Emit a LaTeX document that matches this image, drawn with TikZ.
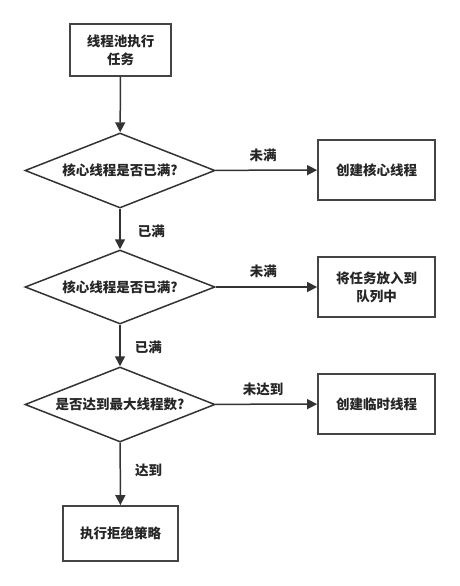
\documentclass[tikz,border=0pt]{standalone}
\usepackage{fontspec}
\setmainfont{Noto Sans CJK SC}
\usetikzlibrary{arrows.meta,shapes.geometric}
\definecolor{linec}{HTML}{333333}
\definecolor{boxc}{HTML}{444444}
\tikzset{
  boxnode/.style={draw=boxc,line width=1.8pt,rectangle,inner sep=0pt,align=center,font=\fontsize{13.5}{18}\selectfont\bfseries,text=black!85},
  decision/.style={draw=linec,line width=1.5pt,diamond,inner sep=0pt,font=\fontsize{13.5}{16}\selectfont\bfseries,text=black!85},
  conn/.style={draw=linec,line width=1.5pt,-{Triangle[length=10pt,width=10pt]}},
  lbl/.style={font=\fontsize{13.5}{16}\selectfont\bfseries,text=black!85,inner sep=0pt}
}
\begin{document}
\begin{tikzpicture}[x=1pt,y=-1pt]
\useasboundingbox (0,0) rectangle (459,586);
\fill[white] (0,0) rectangle (459,586);
\node[boxnode,minimum width=101pt,minimum height=52pt] (start) at (120.5,50) {线程池执行\\任务};
\node[decision,minimum width=190pt,minimum height=75pt] (d1) at (120,170.5) {};
\node[lbl] at (d1) {核心线程是否已满?};
\node[boxnode,minimum width=117pt,minimum height=60pt] (b1) at (376.5,170) {创建核心线程};
\node[decision,minimum width=190pt,minimum height=74pt] (d2) at (120,287) {};
\node[lbl] at (d2) {核心线程是否已满?};
\node[boxnode,minimum width=117pt,minimum height=60pt] (b2) at (376.5,287) {将任务放入到\\队列中};
\node[decision,minimum width=190pt,minimum height=75pt] (d3) at (120,404.5) {};
\node[lbl] at (d3) {是否达到最大线程数?};
\node[boxnode,minimum width=117pt,minimum height=60pt] (b3) at (376.5,404) {创建临时线程};
\node[boxnode,minimum width=115pt,minimum height=55pt] (end) at (120.5,533.5) {执行拒绝策略};
\draw[conn] (start) -- (d1);
\draw[conn] (d1) -- (b1) node[lbl,pos=0.47,above=8pt] (l1) {未满};
\draw[conn] (d1) -- (d2) node[lbl,pos=0.55,right=17pt] (l2) {已满};
\draw[conn] (d2) -- (b2) node[lbl,pos=0.47,above=8pt] (l3) {未满};
\draw[conn] (d2) -- (d3) node[lbl,pos=0.55,right=14pt] (l4) {已满};
\draw[conn] (d3) -- (b3) node[lbl,pos=0.47,above=8pt] (l5) {未达到};
\draw[conn] (d3) -- (end) node[lbl,pos=0.45,right=14pt] (l6) {达到};
\end{tikzpicture}
\end{document}
